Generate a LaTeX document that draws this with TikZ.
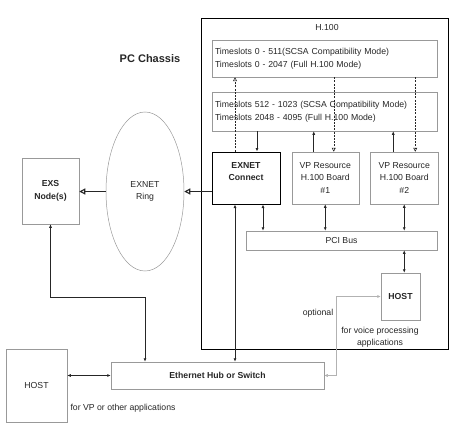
\documentclass[tikz,border=0pt]{standalone}
\usepackage{fontspec}
\setmainfont{Liberation Sans}
\usetikzlibrary{positioning,arrows.meta,shapes.geometric}
\newcommand{\ChassisFont}{\fontsize{8.7}{12.5}\selectfont}

\tikzset{
	>={Latex[length=3.5pt,width=3pt]},
	box/.style={draw=black!40, line width=0.5pt, inner sep=0pt, align=center, text=black!85, font=\ChassisFont},
	slotbox/.style={box, text width=219pt, inner xsep=3pt, align=left, minimum height=#1},
	link/.style={draw=black!85, line width=0.7pt},
	bus/.style={link, line width=0.5pt, dash pattern=on 2pt off 1.2pt, -{Triangle[open,length=4pt,width=4pt]}},
	ring arrow/.style={link, line width=1.1pt, -{Triangle[open,length=6pt,width=6pt]}},
}

\begin{document}
\begin{tikzpicture}[x=1pt, y=-1pt]
	\useasboundingbox (0,0) rectangle (453,436);
	\node[draw, line width=1.2pt, minimum width=247pt, minimum height=331pt, anchor=north west] (chassis) at (201,18) {};
	\node[font=\ChassisFont, text=black!85] (h100) at (327,28) {H.100};
	\node[font=\fontsize{11}{13}\selectfont\bfseries, text=black!85] (pcchassis) at (150,59) {PC Chassis};

	\node[slotbox=37pt] (slotsA) at (324.5,58.5) {Timeslots 0 - 511(SCSA Compatibility Mode)\\Timeslots 0 - 2047 (Full H.100 Mode)};
	\node[slotbox=39pt] (slotsB) at (324.5,111.5) {Timeslots 512 - 1023 (SCSA Compatibility Mode)\\Timeslots 2048 - 4095 (Full H.100 Mode)};

	\node[box, draw=black, line width=1pt, minimum width=68pt, minimum height=52pt, font=\ChassisFont\bfseries] (exnet) at (246,178) {EXNET\\Connect\\~};
	\node[box, minimum width=67pt, minimum height=52pt, right=11pt of exnet] (vpA) {VP Resource\\H.100 Board\\\#1};
	\node[box, minimum width=68pt, minimum height=52pt, right=11pt of vpA] (vpB) {VP Resource\\H.100 Board\\\#2};
	\node[box, minimum width=191pt, minimum height=19pt] (pci) at (341.5,240.5) {PCI Bus};
	\node[box, minimum width=39pt, minimum height=47pt, font=\ChassisFont\bfseries] (hostA) at (400.5,296.5) {HOST};
	\node[font=\ChassisFont, text=black!85, align=center] (voicelabel) at (380,337) {for voice processing\\applications};
	\node[font=\ChassisFont, text=black!85] (optional) at (318,313) {optional};

	\node[box, minimum width=213pt, minimum height=27pt, font=\ChassisFont\bfseries] (ether) at (217.5,375.5) {Ethernet Hub or Switch};
	\node[box, minimum width=61pt, minimum height=73pt] (hostB) at (36.5,385.5) {HOST};
	\node[font=\ChassisFont, text=black!85, anchor=west] (vplabel) at (67,408) {for VP or other applications};
	\node[box, minimum width=57pt, minimum height=66pt, font=\ChassisFont\bfseries] (exs) at (50.5,191) {EXS\\Node(s)};
	\node[box, ellipse, minimum width=78pt, minimum height=159pt] (ring) at (145,191.5) {EXNET\\Ring};

	\draw[ring arrow] (exnet.west |- ring.east) -- (ring.east);
	\draw[ring arrow] (ring.west) -- (ring.west -| exs.east);
	\coordinate (exsbend) at (145,297);
	\draw[link, <->] (exs.south) |- (exsbend) -- (exsbend |- ether.north);
	\draw[link, <->] ([xshift=-11pt]exnet.south) -- ([xshift=-11pt]exnet.south |- ether.north);
	\draw[link, <->] ([xshift=17pt]exnet.south) -- ([xshift=17pt]exnet.south |- pci.north);
	\draw[link, <->] (vpA.south) -- (vpA.south |- pci.north);
	\draw[link, <->] (vpB.south) -- (vpB.south |- pci.north);
	\draw[link, <->] (vpB.south |- pci.south) -- (vpB.south |- hostA.north);
	\draw[link, <->] (hostB.east |- ether.west) -- (ether.west);
	\draw[draw=black!30, line width=0.5pt, <->] (ether.east) -- ++(12,0) |- (hostA.west);

	\draw[bus] ([xshift=-11pt]exnet.north) -- ([xshift=-11pt]exnet.north |- slotsA.south);
	\draw[link, ->] ([xshift=11pt]exnet.north |- slotsB.south) -- ([xshift=11pt]exnet.north);
	\draw[link, ->] ([xshift=-11.5pt]vpA.north) -- ([xshift=-11.5pt]vpA.north |- slotsB.south);
	\draw[bus] ([xshift=8.5pt]vpA.north |- slotsA.south) -- ([xshift=8.5pt]vpA.north);
	\draw[link, ->] ([xshift=-11pt]vpB.north) -- ([xshift=-11pt]vpB.north |- slotsB.south);
	\draw[bus] ([xshift=11pt]vpB.north |- slotsA.south) -- ([xshift=11pt]vpB.north);
\end{tikzpicture}
\end{document}
